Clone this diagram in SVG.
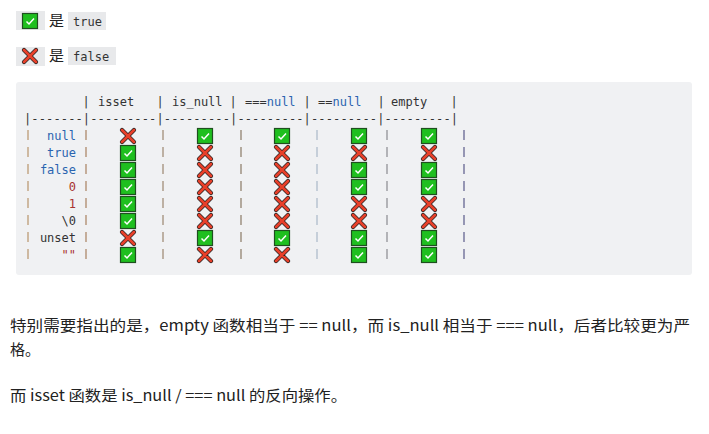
<svg xmlns="http://www.w3.org/2000/svg" xmlns:xlink="http://www.w3.org/1999/xlink" width="709" height="434" viewBox="0 0 709 434">
<style>
.m{font-family:"DejaVu Sans Mono","Liberation Mono",monospace;font-size:12px;fill:#333}
.b{fill:#2a64b0}.r{fill:#a8332e}
.p{font-family:"Noto Sans CJK SC","Noto Sans",sans-serif;font-size:15px;fill:#222}
.cj{font-family:"Noto Sans CJK SC",sans-serif;font-size:15px;fill:#222}
</style>
<defs>
<g id="ck"><rect x="-7.5" y="-7.5" width="15" height="15" fill="#1fbf1f" stroke="#1f4f1f" stroke-width="1.2"/><path d="M-3.5,0.5 L-1,3 L4,-2.5" fill="none" stroke="#fff" stroke-width="1.5"/></g>
<g id="cx"><path d="M-6,-6 L6,6 M6,-6 L-6,6" stroke="#222" stroke-width="4.2" stroke-linecap="round"/><path d="M-6,-6 L6,6 M6,-6 L-6,6" stroke="#e8402a" stroke-width="2.8" stroke-linecap="round"/></g>
</defs>
<rect width="709" height="434" fill="#fff"/>
<g id="legend">
<rect x="16" y="11" width="29" height="19" fill="#e8e9eb"/><use xlink:href="#ck" x="30" y="21"/>
<text x="49" y="26" class="cj">是</text>
<rect x="68" y="12" width="38" height="18" fill="#e8e9eb"/><text x="73" y="26" class="m">true</text>
<rect x="16" y="47" width="29" height="19" fill="#e8e9eb"/><use xlink:href="#cx" x="30" y="56"/>
<text x="49" y="61" class="cj">是</text>
<rect x="68" y="47" width="48" height="18" fill="#e8e9eb"/><text x="73" y="61" class="m">false</text>
</g>
<g id="table">
<rect x="16" y="82" width="676" height="193" rx="3" fill="#f0f1f3"/>
<g class="m">
<text x="86" y="106" text-anchor="middle">|</text><text x="160" y="106" text-anchor="middle">|</text><text x="233" y="106" text-anchor="middle">|</text><text x="307" y="106" text-anchor="middle">|</text><text x="381" y="106" text-anchor="middle">|</text><text x="454" y="106" text-anchor="middle">|</text>
<text x="98" y="106">isset</text><text x="172" y="106">is_null</text><text x="245" y="106">===<tspan class="b">null</tspan></text><text x="318" y="106">==<tspan class="b">null</tspan></text><text x="391" y="106">empty</text>
<text x="24" y="123" textLength="434" lengthAdjust="spacing">|-------|---------|---------|---------|---------|---------|</text>
<text x="76" y="140" text-anchor="end" class="b">null</text>
<text x="76" y="157" text-anchor="end" class="b">true</text>
<text x="76" y="174" text-anchor="end" class="b">false</text>
<text x="76" y="191" text-anchor="end" class="r">0</text>
<text x="76" y="208" text-anchor="end" class="r">1</text>
<text x="76" y="225" text-anchor="end">\0</text>
<text x="76" y="242" text-anchor="end">unset</text>
<text x="76" y="259" text-anchor="end" class="r">""</text>
</g>
<g stroke-width="1.2">
<g id="pipes">
<path d="M28,130v10M28,147v10M28,164v10M28,181v10M28,198v10M28,215v10M28,232v10M28,249v10" stroke="#b8946c"/>
<path d="M86,130v10M86,147v10M86,164v10M86,181v10M86,198v10M86,215v10M86,232v10M86,249v10" stroke="#a88060"/>
<path d="M163,130v10M163,147v10M163,164v10M163,181v10M163,198v10M163,215v10M163,232v10M163,249v10" stroke="#9c8670"/>
<path d="M241,130v10M241,147v10M241,164v10M241,181v10M241,198v10M241,215v10M241,232v10M241,249v10" stroke="#8a7a66"/>
<path d="M317,130v10M317,147v10M317,164v10M317,181v10M317,198v10M317,215v10M317,232v10M317,249v10" stroke="#aab8c8"/>
<path d="M387,130v10M387,147v10M387,164v10M387,181v10M387,198v10M387,215v10M387,232v10M387,249v10" stroke="#8a8a90"/>
<path d="M464,130v10M464,147v10M464,164v10M464,181v10M464,198v10M464,215v10M464,232v10M464,249v10" stroke="#5a5a8a"/>
</g>
</g>
<g id="cells">
<use xlink:href="#cx" x="128" y="136"/><use xlink:href="#ck" x="205" y="136"/><use xlink:href="#ck" x="282" y="136"/><use xlink:href="#ck" x="359" y="136"/><use xlink:href="#ck" x="429" y="136"/>
<use xlink:href="#ck" x="128" y="153"/><use xlink:href="#cx" x="205" y="153"/><use xlink:href="#cx" x="282" y="153"/><use xlink:href="#cx" x="359" y="153"/><use xlink:href="#cx" x="429" y="153"/>
<use xlink:href="#ck" x="128" y="170"/><use xlink:href="#cx" x="205" y="170"/><use xlink:href="#cx" x="282" y="170"/><use xlink:href="#ck" x="359" y="170"/><use xlink:href="#ck" x="429" y="170"/>
<use xlink:href="#ck" x="128" y="187"/><use xlink:href="#cx" x="205" y="187"/><use xlink:href="#cx" x="282" y="187"/><use xlink:href="#ck" x="359" y="187"/><use xlink:href="#ck" x="429" y="187"/>
<use xlink:href="#ck" x="128" y="204"/><use xlink:href="#cx" x="205" y="204"/><use xlink:href="#cx" x="282" y="204"/><use xlink:href="#cx" x="359" y="204"/><use xlink:href="#cx" x="429" y="204"/>
<use xlink:href="#ck" x="128" y="221"/><use xlink:href="#cx" x="205" y="221"/><use xlink:href="#cx" x="282" y="221"/><use xlink:href="#cx" x="359" y="221"/><use xlink:href="#cx" x="429" y="221"/>
<use xlink:href="#cx" x="128" y="238"/><use xlink:href="#ck" x="205" y="238"/><use xlink:href="#ck" x="282" y="238"/><use xlink:href="#ck" x="359" y="238"/><use xlink:href="#ck" x="429" y="238"/>
<use xlink:href="#ck" x="128" y="255"/><use xlink:href="#cx" x="205" y="255"/><use xlink:href="#cx" x="282" y="255"/><use xlink:href="#ck" x="359" y="255"/><use xlink:href="#ck" x="429" y="255"/>
</g>
</g>
<g id="notes">
<text x="10" y="331" class="p" textLength="680" lengthAdjust="spacingAndGlyphs">特别需要指出的是，empty 函数相当于 == null，而 is_null 相当于 === null，后者比较更为严</text>
<text x="10" y="355" class="p">格。</text>
<text x="10" y="401" class="p" textLength="337" lengthAdjust="spacingAndGlyphs">而 isset 函数是 is_null / === null 的反向操作。</text>
</g>
</svg>
